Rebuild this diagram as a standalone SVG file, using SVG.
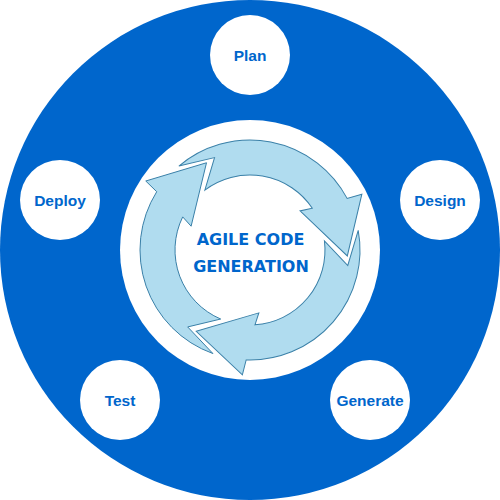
<svg xmlns="http://www.w3.org/2000/svg" xmlns:xlink="http://www.w3.org/1999/xlink" width="500" height="500" viewBox="0 0 500 500">
  <style>
    .sat { fill: #ffffff; }
    .lbl { font-family: "Liberation Sans", Arial, sans-serif; font-weight: bold; font-size: 15.5px; fill: #0066CC; text-anchor: middle; }
    .title { font-family: "DejaVu Sans", Verdana, sans-serif; font-weight: bold; font-size: 16px; fill: #0066CC; text-anchor: middle; }
    .arrow { fill: #B0DCEF; stroke: #3A80A8; stroke-width: 1; stroke-linejoin: miter; }
  </style>
  <defs>
    <path id="cyc" class="arrow" d="M212.92,353.56 A110,110 0 0 1 156.72,191.71 L145.76,181.01 L206.5,162.75 L191.12,226.21 L182.7,216.89 A75,75 0 0 0 220.7,319.04 L187.7,326.93 Z"/>
  </defs>
  <g id="background">
    <circle cx="250" cy="250" r="250" fill="#0066CC"/>
    <circle cx="250" cy="250" r="130" fill="#ffffff"/>
  </g>
  <g id="cycle">
    <use xlink:href="#cyc" href="#cyc"/>
    <use xlink:href="#cyc" href="#cyc" transform="rotate(120 250 250)"/>
    <use xlink:href="#cyc" href="#cyc" transform="rotate(240 250 250)"/>
  </g>
  <g id="center-title">
    <text class="title" x="250.5" y="245">AGILE CODE</text>
    <text class="title" x="251" y="272">GENERATION</text>
  </g>
  <g id="plan">
    <circle class="sat" cx="250" cy="55" r="40"/>
    <text class="lbl" x="250" y="60.5">Plan</text>
  </g>
  <g id="design">
    <circle class="sat" cx="440" cy="200" r="40"/>
    <text class="lbl" x="440" y="205.5">Design</text>
  </g>
  <g id="generate">
    <circle class="sat" cx="370" cy="400" r="40"/>
    <text class="lbl" x="370" y="405.5">Generate</text>
  </g>
  <g id="test">
    <circle class="sat" cx="120" cy="400" r="40"/>
    <text class="lbl" x="120" y="405.5">Test</text>
  </g>
  <g id="deploy">
    <circle class="sat" cx="60" cy="200" r="40"/>
    <text class="lbl" x="60" y="205.5">Deploy</text>
  </g>
</svg>
